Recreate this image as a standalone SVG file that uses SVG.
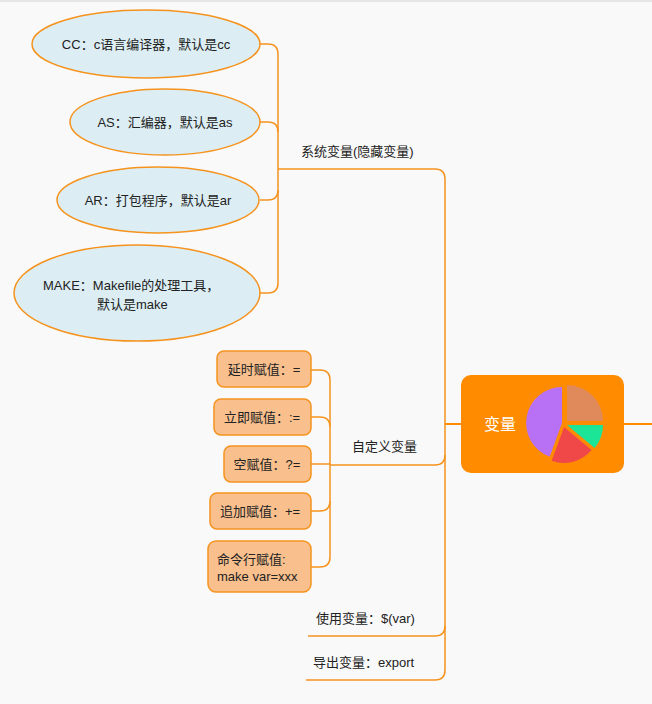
<svg xmlns="http://www.w3.org/2000/svg" width="652" height="704" viewBox="0 0 652 704">
<style>
.t{font-family:"Liberation Sans","Noto Sans CJK SC",sans-serif;font-size:13px;fill:#222;}
.e{fill:#DCEEF4;stroke:#F5931E;stroke-width:1.5;}
.b{fill:#F9C08E;stroke:#F5931E;stroke-width:1.5;}
.c{fill:none;stroke:#F5931E;stroke-width:1.5;}
</style>
<rect width="652" height="704" fill="#F9F9F9"/>
<line x1="0" y1="1" x2="652" y2="1" stroke="#E6E6E6" stroke-width="2"/>
<g id="connectors">
<path class="c" d="M260,44 H268 Q278,44 278,54 V283 Q278,293 268,293 H260"/>
<path class="c" d="M260,122 H268 Q278,122 278,132"/>
<path class="c" d="M260,200 H268 Q278,200 278,190"/>
<path class="c" d="M278,169 H435 Q445,169 445,179 V670 Q445,680 435,680 H306"/>
<path class="c" d="M330,465 H435 Q445,465 445,455"/>
<path class="c" d="M308,636 H435 Q445,636 445,626"/>
<path class="c" d="M311,370 H320 Q330,370 330,380 V557 Q330,567 320,567 H311"/>
<path class="c" d="M311,417 H320 Q330,417 330,427"/>
<path class="c" d="M311,464 H330"/>
<path class="c" d="M311,511 H320 Q330,511 330,501"/>
<path d="M445,424 H461 M624,424 H652" stroke="#FF8C00" stroke-width="2"/>
</g>
<g id="cc"><ellipse class="e" cx="146" cy="44" rx="114" ry="34"/><text class="t" x="146" y="49" text-anchor="middle">CC：c语言编译器，默认是cc</text></g>
<g id="as"><ellipse class="e" cx="165" cy="122" rx="95" ry="33"/><text class="t" x="165" y="127" text-anchor="middle">AS：汇编器，默认是as</text></g>
<g id="ar"><ellipse class="e" cx="158" cy="200" rx="101" ry="33"/><text class="t" x="158" y="205" text-anchor="middle">AR：打包程序，默认是ar</text></g>
<g id="make"><ellipse class="e" cx="137" cy="293" rx="123" ry="48"/><text class="t" x="43" y="290">MAKE：Makefile的处理工具，</text><text class="t" x="97" y="309">默认是make</text></g>
<g id="sys"><text class="t" x="301" y="156">系统变量(隐藏变量)</text></g>
<g id="custom"><text class="t" x="352" y="451">自定义变量</text></g>
<g id="use"><text class="t" x="316" y="623">使用变量：$(var)</text></g>
<g id="export"><text class="t" x="313" y="667">导出变量：export</text></g>
<g id="b1"><rect class="b" x="217" y="351" width="94" height="36" rx="7"/><text class="t" x="264" y="374" text-anchor="middle">延时赋值：=</text></g>
<g id="b2"><rect class="b" x="214" y="399" width="97" height="36" rx="7"/><text class="t" x="262" y="422" text-anchor="middle">立即赋值：:=</text></g>
<g id="b3"><rect class="b" x="224" y="446" width="87" height="36" rx="7"/><text class="t" x="267" y="469" text-anchor="middle">空赋值：?=</text></g>
<g id="b4"><rect class="b" x="210" y="493" width="101" height="36" rx="7"/><text class="t" x="260" y="516" text-anchor="middle">追加赋值：+=</text></g>
<g id="b5"><rect class="b" x="208" y="541" width="103" height="51" rx="8"/><text class="t" x="217" y="564">命令行赋值:</text><text class="t" x="217" y="581">make var=xxx</text></g>
<g id="center">
<rect x="461" y="375" width="163" height="98" rx="10" fill="#FF8C00"/>
<text x="500" y="430" text-anchor="middle" style="font-family:'Noto Sans CJK SC',sans-serif;font-size:16px;fill:#fff">变量</text>
<path d="M567,421 L567,385 A36,36 0 0 1 603,421 Z" fill="#E0895A"/>
<path d="M567,425 L603,425 A36,36 0 0 1 594.6,448.1 Z" fill="#1DE597"/>
<path d="M564,427 L591.6,450.1 A36,36 0 0 1 551.7,460.8 Z" fill="#F04848"/>
<path d="M562,423 L549.7,456.8 A36,36 0 0 1 562,387 Z" fill="#B870F5"/>
</g>
</svg>
